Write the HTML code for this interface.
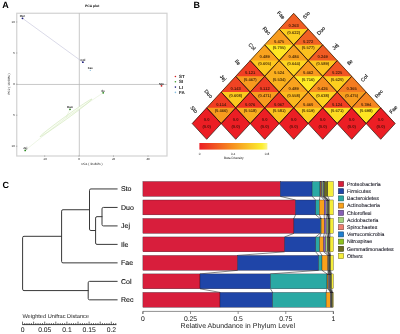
<!DOCTYPE html>
<html><head><meta charset="utf-8"><title>Figure</title><style>html,body{margin:0;padding:0;background:#fff}svg{display:block}</style></head><body>
<svg width="400" height="334" viewBox="0 0 400 334" font-family="'Liberation Sans', Arial, sans-serif" text-rendering="geometricPrecision">
<rect width="400" height="334" fill="#fff"/>
<g id="panelA">
<text x="2.2" y="8.3" font-size="9" font-weight="bold" fill="#000">A</text>
<text x="92.2" y="7.4" font-size="3.4" font-weight="bold" fill="#000" text-anchor="middle">PCA plot</text>
<rect x="16.75" y="13.25" width="150.25" height="142.75" fill="none" stroke="#d2d2d2" stroke-width="1.2"/>
<line x1="79.3" y1="13.25" x2="79.3" y2="156.0" stroke="#b4b4b4" stroke-width="0.75"/>
<line x1="16.75" y1="84.45" x2="167.0" y2="84.45" stroke="#b4b4b4" stroke-width="0.75"/>
<line x1="22.5" y1="18.3" x2="82.9" y2="62.2" stroke="#b4b4d0" stroke-width="0.5"/>
<g transform="translate(66,117.8) rotate(-35.9)"><ellipse cx="0" cy="0" rx="32" ry="1.4" fill="#fafdf5" stroke="#bcdc9c" stroke-width="0.4"/></g>
<line x1="25.2" y1="150.4" x2="66" y2="117.6" stroke="#cfe6b6" stroke-width="0.35"/>
<line x1="66" y1="117.6" x2="103.2" y2="92.8" stroke="#cfe6b6" stroke-width="0.35"/>
<line x1="66" y1="117.6" x2="70" y2="109.3" stroke="#cfe6b6" stroke-width="0.35"/>
<circle cx="22.5" cy="18.3" r="0.9" fill="#1a1a7a"/>
<text x="22.5" y="17.0" font-size="3.0" font-weight="bold" fill="#1a1a1a" text-anchor="middle">Rec</text>
<circle cx="82.9" cy="62.2" r="0.9" fill="#1a1a7a"/>
<text x="82.9" y="60.900000000000006" font-size="3.0" font-weight="bold" fill="#1a1a1a" text-anchor="middle">Col</text>
<circle cx="90.3" cy="70.4" r="0.6" fill="#8ac0e0"/>
<text x="90.3" y="69.10000000000001" font-size="3.0" font-weight="bold" fill="#1a1a1a" text-anchor="middle">Fae</text>
<circle cx="161.5" cy="85.8" r="0.9" fill="#d02020"/>
<text x="161.5" y="84.5" font-size="3.0" font-weight="bold" fill="#1a1a1a" text-anchor="middle">Sto</text>
<circle cx="103.2" cy="92.8" r="0.9" fill="#2c8a20"/>
<text x="103.2" y="91.5" font-size="3.0" font-weight="bold" fill="#1a1a1a" text-anchor="middle">Ile</text>
<circle cx="70" cy="109.3" r="0.9" fill="#2c8a20"/>
<text x="70" y="108.0" font-size="3.0" font-weight="bold" fill="#1a1a1a" text-anchor="middle">Duo</text>
<circle cx="25.2" cy="150.4" r="0.9" fill="#2c8a20"/>
<text x="25.2" y="149.1" font-size="3.0" font-weight="bold" fill="#1a1a1a" text-anchor="middle">Jej</text>
<text x="44.7" y="160.3" font-size="2.9" fill="#111" text-anchor="middle">-20</text>
<line x1="44.7" y1="155.4" x2="44.7" y2="156.8" stroke="#666" stroke-width="0.4"/>
<text x="79" y="160.3" font-size="2.9" fill="#111" text-anchor="middle">0</text>
<line x1="79" y1="155.4" x2="79" y2="156.8" stroke="#666" stroke-width="0.4"/>
<text x="113.5" y="160.3" font-size="2.9" fill="#111" text-anchor="middle">20</text>
<line x1="113.5" y1="155.4" x2="113.5" y2="156.8" stroke="#666" stroke-width="0.4"/>
<text x="148" y="160.3" font-size="2.9" fill="#111" text-anchor="middle">40</text>
<line x1="148" y1="155.4" x2="148" y2="156.8" stroke="#666" stroke-width="0.4"/>
<text x="14.8" y="23" font-size="2.9" fill="#111" text-anchor="end">10</text>
<line x1="15.95" y1="22" x2="17.35" y2="22" stroke="#666" stroke-width="0.4"/>
<text x="14.8" y="54" font-size="2.9" fill="#111" text-anchor="end">5</text>
<line x1="15.95" y1="53" x2="17.35" y2="53" stroke="#666" stroke-width="0.4"/>
<text x="14.8" y="85.2" font-size="2.9" fill="#111" text-anchor="end">0</text>
<line x1="15.95" y1="84.2" x2="17.35" y2="84.2" stroke="#666" stroke-width="0.4"/>
<text x="14.8" y="116.2" font-size="2.9" fill="#111" text-anchor="end">-5</text>
<line x1="15.95" y1="115.2" x2="17.35" y2="115.2" stroke="#666" stroke-width="0.4"/>
<text x="14.8" y="147.2" font-size="2.9" fill="#111" text-anchor="end">-10</text>
<line x1="15.95" y1="146.2" x2="17.35" y2="146.2" stroke="#666" stroke-width="0.4"/>
<text x="92" y="165" font-size="3.1" fill="#111" text-anchor="middle">PC1 ( 35.80% )</text>
<text transform="translate(9.6,84) rotate(-90)" font-size="3.1" fill="#111" text-anchor="middle">PC2 ( 16.98% )</text>
<circle cx="175.4" cy="76.5" r="0.8" fill="#d02020"/>
<text x="179.0" y="78.1" font-size="4.5" font-weight="bold" fill="#222">ST</text>
<circle cx="175.4" cy="81.8" r="0.8" fill="#3a9a2a"/>
<text x="179.0" y="83.39999999999999" font-size="4.5" font-weight="bold" fill="#222">SI</text>
<circle cx="175.4" cy="87.1" r="0.8" fill="#1a1a7a"/>
<text x="179.0" y="88.69999999999999" font-size="4.5" font-weight="bold" fill="#222">LI</text>
<circle cx="175.4" cy="92.4" r="0.8" fill="#8ac0e0"/>
<text x="179.0" y="94.0" font-size="4.5" font-weight="bold" fill="#222">FA</text>
</g>
<g id="panelB">
<text x="193.6" y="8.3" font-size="9" font-weight="bold" fill="#000">B</text>
<polygon points="279.20,29.05 293.70,13.30 308.20,29.05 293.70,44.80" fill="#fcce1f"/>
<polygon points="279.20,29.05 293.70,13.30 308.20,29.05" fill="#f15e23"/>
<polygon points="264.70,44.80 279.20,29.05 293.70,44.80 279.20,60.55" fill="#fee722"/>
<polygon points="264.70,44.80 279.20,29.05 293.70,44.80" fill="#f89d1e"/>
<polygon points="293.70,44.80 308.20,29.05 322.70,44.80 308.20,60.55" fill="#fbc01e"/>
<polygon points="293.70,44.80 308.20,29.05 322.70,44.80" fill="#f16123"/>
<polygon points="250.20,60.55 264.70,44.80 279.20,60.55 264.70,76.30" fill="#fcc91e"/>
<polygon points="250.20,60.55 264.70,44.80 279.20,60.55" fill="#f9a21e"/>
<polygon points="279.20,60.55 293.70,44.80 308.20,60.55 293.70,76.30" fill="#fdd520"/>
<polygon points="279.20,60.55 293.70,44.80 308.20,60.55" fill="#f8a01e"/>
<polygon points="308.20,60.55 322.70,44.80 337.20,60.55 322.70,76.30" fill="#fcc41e"/>
<polygon points="308.20,60.55 322.70,44.80 337.20,60.55" fill="#f15b23"/>
<polygon points="235.70,76.30 250.20,60.55 264.70,76.30 250.20,92.05" fill="#f89a1e"/>
<polygon points="235.70,76.30 250.20,60.55 264.70,76.30" fill="#f03e23"/>
<polygon points="264.70,76.30 279.20,60.55 293.70,76.30 279.20,92.05" fill="#fab11e"/>
<polygon points="264.70,76.30 279.20,60.55 293.70,76.30" fill="#faae1e"/>
<polygon points="293.70,76.30 308.20,60.55 322.70,76.30 308.20,92.05" fill="#feea23"/>
<polygon points="293.70,76.30 308.20,60.55 322.70,76.30" fill="#f8991e"/>
<polygon points="322.70,76.30 337.20,60.55 351.70,76.30 337.20,92.05" fill="#fcce1f"/>
<polygon points="322.70,76.30 337.20,60.55 351.70,76.30" fill="#f15523"/>
<polygon points="221.20,92.05 235.70,76.30 250.20,92.05 235.70,107.80" fill="#fcca1e"/>
<polygon points="221.20,92.05 235.70,76.30 250.20,92.05" fill="#f04323"/>
<polygon points="250.20,92.05 264.70,76.30 279.20,92.05 264.70,107.80" fill="#f89b1e"/>
<polygon points="250.20,92.05 264.70,76.30 279.20,92.05" fill="#f03c23"/>
<polygon points="279.20,92.05 293.70,76.30 308.20,92.05 293.70,107.80" fill="#fbb91e"/>
<polygon points="279.20,92.05 293.70,76.30 308.20,92.05" fill="#f9a21e"/>
<polygon points="308.20,92.05 322.70,76.30 337.20,92.05 322.70,107.80" fill="#fdd320"/>
<polygon points="308.20,92.05 322.70,76.30 337.20,92.05" fill="#f78e1f"/>
<polygon points="337.20,92.05 351.70,76.30 366.20,92.05 351.70,107.80" fill="#f89d1e"/>
<polygon points="337.20,92.05 351.70,76.30 366.20,92.05" fill="#f47c20"/>
<polygon points="206.70,107.80 221.20,92.05 235.70,107.80 221.20,123.55" fill="#f89a1e"/>
<polygon points="206.70,107.80 221.20,92.05 235.70,107.80" fill="#f03c23"/>
<polygon points="235.70,107.80 250.20,92.05 264.70,107.80 250.20,123.55" fill="#f9ac1e"/>
<polygon points="235.70,107.80 250.20,92.05 264.70,107.80" fill="#ef3223"/>
<polygon points="264.70,107.80 279.20,92.05 293.70,107.80 279.20,123.55" fill="#fbc11e"/>
<polygon points="264.70,107.80 279.20,92.05 293.70,107.80" fill="#ee3023"/>
<polygon points="293.70,107.80 308.20,92.05 322.70,107.80 308.20,123.55" fill="#fcce1f"/>
<polygon points="293.70,107.80 308.20,92.05 322.70,107.80" fill="#f8981e"/>
<polygon points="322.70,107.80 337.20,92.05 351.70,107.80 337.20,123.55" fill="#fddd21"/>
<polygon points="322.70,107.80 337.20,92.05 351.70,107.80" fill="#f03f23"/>
<polygon points="351.70,107.80 366.20,92.05 380.70,107.80 366.20,123.55" fill="#fee522"/>
<polygon points="351.70,107.80 366.20,92.05 380.70,107.80" fill="#f58520"/>
<polygon points="192.20,123.55 206.70,107.80 221.20,123.55 206.70,139.30" fill="#ec1e24"/>
<polygon points="192.20,123.55 206.70,107.80 221.20,123.55" fill="#ec1e24"/>
<polygon points="221.20,123.55 235.70,107.80 250.20,123.55 235.70,139.30" fill="#ec1e24"/>
<polygon points="221.20,123.55 235.70,107.80 250.20,123.55" fill="#ec1e24"/>
<polygon points="250.20,123.55 264.70,107.80 279.20,123.55 264.70,139.30" fill="#ec1e24"/>
<polygon points="250.20,123.55 264.70,107.80 279.20,123.55" fill="#ec1e24"/>
<polygon points="279.20,123.55 293.70,107.80 308.20,123.55 293.70,139.30" fill="#ec1e24"/>
<polygon points="279.20,123.55 293.70,107.80 308.20,123.55" fill="#ec1e24"/>
<polygon points="308.20,123.55 322.70,107.80 337.20,123.55 322.70,139.30" fill="#ec1e24"/>
<polygon points="308.20,123.55 322.70,107.80 337.20,123.55" fill="#ec1e24"/>
<polygon points="337.20,123.55 351.70,107.80 366.20,123.55 351.70,139.30" fill="#ec1e24"/>
<polygon points="337.20,123.55 351.70,107.80 366.20,123.55" fill="#ec1e24"/>
<polygon points="366.20,123.55 380.70,107.80 395.20,123.55 380.70,139.30" fill="#ec1e24"/>
<polygon points="366.20,123.55 380.70,107.80 395.20,123.55" fill="#ec1e24"/>
<polygon points="279.20,29.05 293.70,13.30 308.20,29.05 293.70,44.80" fill="none" stroke="#2a1208" stroke-width="0.7" stroke-linejoin="miter"/>
<text x="293.70" y="26.85" font-size="4.1" font-weight="bold" fill="#200c00" fill-opacity="0.8" text-anchor="middle">0.263</text>
<text x="293.70" y="33.65" font-size="4.1" font-weight="bold" fill="#200c00" fill-opacity="0.8" text-anchor="middle">(0.622)</text>
<polygon points="264.70,44.80 279.20,29.05 293.70,44.80 279.20,60.55" fill="none" stroke="#2a1208" stroke-width="0.7" stroke-linejoin="miter"/>
<text x="279.20" y="42.60" font-size="4.1" font-weight="bold" fill="#200c00" fill-opacity="0.8" text-anchor="middle">0.475</text>
<text x="279.20" y="49.40" font-size="4.1" font-weight="bold" fill="#200c00" fill-opacity="0.8" text-anchor="middle">(0.705)</text>
<polygon points="293.70,44.80 308.20,29.05 322.70,44.80 308.20,60.55" fill="none" stroke="#2a1208" stroke-width="0.7" stroke-linejoin="miter"/>
<text x="308.20" y="42.60" font-size="4.1" font-weight="bold" fill="#200c00" fill-opacity="0.8" text-anchor="middle">0.272</text>
<text x="308.20" y="49.40" font-size="4.1" font-weight="bold" fill="#200c00" fill-opacity="0.8" text-anchor="middle">(0.577)</text>
<polygon points="250.20,60.55 264.70,44.80 279.20,60.55 264.70,76.30" fill="none" stroke="#2a1208" stroke-width="0.7" stroke-linejoin="miter"/>
<text x="264.70" y="58.35" font-size="4.1" font-weight="bold" fill="#200c00" fill-opacity="0.8" text-anchor="middle">0.489</text>
<text x="264.70" y="65.15" font-size="4.1" font-weight="bold" fill="#200c00" fill-opacity="0.8" text-anchor="middle">(0.605)</text>
<polygon points="279.20,60.55 293.70,44.80 308.20,60.55 293.70,76.30" fill="none" stroke="#2a1208" stroke-width="0.7" stroke-linejoin="miter"/>
<text x="293.70" y="58.35" font-size="4.1" font-weight="bold" fill="#200c00" fill-opacity="0.8" text-anchor="middle">0.484</text>
<text x="293.70" y="65.15" font-size="4.1" font-weight="bold" fill="#200c00" fill-opacity="0.8" text-anchor="middle">(0.644)</text>
<polygon points="308.20,60.55 322.70,44.80 337.20,60.55 322.70,76.30" fill="none" stroke="#2a1208" stroke-width="0.7" stroke-linejoin="miter"/>
<text x="322.70" y="58.35" font-size="4.1" font-weight="bold" fill="#200c00" fill-opacity="0.8" text-anchor="middle">0.249</text>
<text x="322.70" y="65.15" font-size="4.1" font-weight="bold" fill="#200c00" fill-opacity="0.8" text-anchor="middle">(0.589)</text>
<polygon points="235.70,76.30 250.20,60.55 264.70,76.30 250.20,92.05" fill="none" stroke="#2a1208" stroke-width="0.7" stroke-linejoin="miter"/>
<text x="250.20" y="74.10" font-size="4.1" font-weight="bold" fill="#200c00" fill-opacity="0.8" text-anchor="middle">0.121</text>
<text x="250.20" y="80.90" font-size="4.1" font-weight="bold" fill="#200c00" fill-opacity="0.8" text-anchor="middle">(0.467)</text>
<polygon points="264.70,76.30 279.20,60.55 293.70,76.30 279.20,92.05" fill="none" stroke="#2a1208" stroke-width="0.7" stroke-linejoin="miter"/>
<text x="279.20" y="74.10" font-size="4.1" font-weight="bold" fill="#200c00" fill-opacity="0.8" text-anchor="middle">0.524</text>
<text x="279.20" y="80.90" font-size="4.1" font-weight="bold" fill="#200c00" fill-opacity="0.8" text-anchor="middle">(0.534)</text>
<polygon points="293.70,76.30 308.20,60.55 322.70,76.30 308.20,92.05" fill="none" stroke="#2a1208" stroke-width="0.7" stroke-linejoin="miter"/>
<text x="308.20" y="74.10" font-size="4.1" font-weight="bold" fill="#200c00" fill-opacity="0.8" text-anchor="middle">0.462</text>
<text x="308.20" y="80.90" font-size="4.1" font-weight="bold" fill="#200c00" fill-opacity="0.8" text-anchor="middle">(0.716)</text>
<polygon points="322.70,76.30 337.20,60.55 351.70,76.30 337.20,92.05" fill="none" stroke="#2a1208" stroke-width="0.7" stroke-linejoin="miter"/>
<text x="337.20" y="74.10" font-size="4.1" font-weight="bold" fill="#200c00" fill-opacity="0.8" text-anchor="middle">0.225</text>
<text x="337.20" y="80.90" font-size="4.1" font-weight="bold" fill="#200c00" fill-opacity="0.8" text-anchor="middle">(0.620)</text>
<polygon points="221.20,92.05 235.70,76.30 250.20,92.05 235.70,107.80" fill="none" stroke="#2a1208" stroke-width="0.7" stroke-linejoin="miter"/>
<text x="235.70" y="89.85" font-size="4.1" font-weight="bold" fill="#200c00" fill-opacity="0.8" text-anchor="middle">0.143</text>
<text x="235.70" y="96.65" font-size="4.1" font-weight="bold" fill="#200c00" fill-opacity="0.8" text-anchor="middle">(0.608)</text>
<polygon points="250.20,92.05 264.70,76.30 279.20,92.05 264.70,107.80" fill="none" stroke="#2a1208" stroke-width="0.7" stroke-linejoin="miter"/>
<text x="264.70" y="89.85" font-size="4.1" font-weight="bold" fill="#200c00" fill-opacity="0.8" text-anchor="middle">0.112</text>
<text x="264.70" y="96.65" font-size="4.1" font-weight="bold" fill="#200c00" fill-opacity="0.8" text-anchor="middle">(0.471)</text>
<polygon points="279.20,92.05 293.70,76.30 308.20,92.05 293.70,107.80" fill="none" stroke="#2a1208" stroke-width="0.7" stroke-linejoin="miter"/>
<text x="293.70" y="89.85" font-size="4.1" font-weight="bold" fill="#200c00" fill-opacity="0.8" text-anchor="middle">0.489</text>
<text x="293.70" y="96.65" font-size="4.1" font-weight="bold" fill="#200c00" fill-opacity="0.8" text-anchor="middle">(0.558)</text>
<polygon points="308.20,92.05 322.70,76.30 337.20,92.05 322.70,107.80" fill="none" stroke="#2a1208" stroke-width="0.7" stroke-linejoin="miter"/>
<text x="322.70" y="89.85" font-size="4.1" font-weight="bold" fill="#200c00" fill-opacity="0.8" text-anchor="middle">0.426</text>
<text x="322.70" y="96.65" font-size="4.1" font-weight="bold" fill="#200c00" fill-opacity="0.8" text-anchor="middle">(0.638)</text>
<polygon points="337.20,92.05 351.70,76.30 366.20,92.05 351.70,107.80" fill="none" stroke="#2a1208" stroke-width="0.7" stroke-linejoin="miter"/>
<text x="351.70" y="89.85" font-size="4.1" font-weight="bold" fill="#200c00" fill-opacity="0.8" text-anchor="middle">0.365</text>
<text x="351.70" y="96.65" font-size="4.1" font-weight="bold" fill="#200c00" fill-opacity="0.8" text-anchor="middle">(0.475)</text>
<polygon points="206.70,107.80 221.20,92.05 235.70,107.80 221.20,123.55" fill="none" stroke="#2a1208" stroke-width="0.7" stroke-linejoin="miter"/>
<text x="221.20" y="105.60" font-size="4.1" font-weight="bold" fill="#200c00" fill-opacity="0.8" text-anchor="middle">0.114</text>
<text x="221.20" y="112.40" font-size="4.1" font-weight="bold" fill="#200c00" fill-opacity="0.8" text-anchor="middle">(0.466)</text>
<polygon points="235.70,107.80 250.20,92.05 264.70,107.80 250.20,123.55" fill="none" stroke="#2a1208" stroke-width="0.7" stroke-linejoin="miter"/>
<text x="250.20" y="105.60" font-size="4.1" font-weight="bold" fill="#200c00" fill-opacity="0.8" text-anchor="middle">0.076</text>
<text x="250.20" y="112.40" font-size="4.1" font-weight="bold" fill="#200c00" fill-opacity="0.8" text-anchor="middle">(0.518)</text>
<polygon points="264.70,107.80 279.20,92.05 293.70,107.80 279.20,123.55" fill="none" stroke="#2a1208" stroke-width="0.7" stroke-linejoin="miter"/>
<text x="279.20" y="105.60" font-size="4.1" font-weight="bold" fill="#200c00" fill-opacity="0.8" text-anchor="middle">0.067</text>
<text x="279.20" y="112.40" font-size="4.1" font-weight="bold" fill="#200c00" fill-opacity="0.8" text-anchor="middle">(0.581)</text>
<polygon points="293.70,107.80 308.20,92.05 322.70,107.80 308.20,123.55" fill="none" stroke="#2a1208" stroke-width="0.7" stroke-linejoin="miter"/>
<text x="308.20" y="105.60" font-size="4.1" font-weight="bold" fill="#200c00" fill-opacity="0.8" text-anchor="middle">0.460</text>
<text x="308.20" y="112.40" font-size="4.1" font-weight="bold" fill="#200c00" fill-opacity="0.8" text-anchor="middle">(0.619)</text>
<polygon points="322.70,107.80 337.20,92.05 351.70,107.80 337.20,123.55" fill="none" stroke="#2a1208" stroke-width="0.7" stroke-linejoin="miter"/>
<text x="337.20" y="105.60" font-size="4.1" font-weight="bold" fill="#200c00" fill-opacity="0.8" text-anchor="middle">0.124</text>
<text x="337.20" y="112.40" font-size="4.1" font-weight="bold" fill="#200c00" fill-opacity="0.8" text-anchor="middle">(0.671)</text>
<polygon points="351.70,107.80 366.20,92.05 380.70,107.80 366.20,123.55" fill="none" stroke="#2a1208" stroke-width="0.7" stroke-linejoin="miter"/>
<text x="366.20" y="105.60" font-size="4.1" font-weight="bold" fill="#200c00" fill-opacity="0.8" text-anchor="middle">0.394</text>
<text x="366.20" y="112.40" font-size="4.1" font-weight="bold" fill="#200c00" fill-opacity="0.8" text-anchor="middle">(0.698)</text>
<polygon points="192.20,123.55 206.70,107.80 221.20,123.55 206.70,139.30" fill="none" stroke="#2a1208" stroke-width="0.7" stroke-linejoin="miter"/>
<text x="206.70" y="121.35" font-size="4.1" font-weight="bold" fill="#200c00" fill-opacity="0.8" text-anchor="middle">0.0</text>
<text x="206.70" y="128.15" font-size="4.1" font-weight="bold" fill="#200c00" fill-opacity="0.8" text-anchor="middle">(0.0)</text>
<polygon points="221.20,123.55 235.70,107.80 250.20,123.55 235.70,139.30" fill="none" stroke="#2a1208" stroke-width="0.7" stroke-linejoin="miter"/>
<text x="235.70" y="121.35" font-size="4.1" font-weight="bold" fill="#200c00" fill-opacity="0.8" text-anchor="middle">0.0</text>
<text x="235.70" y="128.15" font-size="4.1" font-weight="bold" fill="#200c00" fill-opacity="0.8" text-anchor="middle">(0.0)</text>
<polygon points="250.20,123.55 264.70,107.80 279.20,123.55 264.70,139.30" fill="none" stroke="#2a1208" stroke-width="0.7" stroke-linejoin="miter"/>
<text x="264.70" y="121.35" font-size="4.1" font-weight="bold" fill="#200c00" fill-opacity="0.8" text-anchor="middle">0.0</text>
<text x="264.70" y="128.15" font-size="4.1" font-weight="bold" fill="#200c00" fill-opacity="0.8" text-anchor="middle">(0.0)</text>
<polygon points="279.20,123.55 293.70,107.80 308.20,123.55 293.70,139.30" fill="none" stroke="#2a1208" stroke-width="0.7" stroke-linejoin="miter"/>
<text x="293.70" y="121.35" font-size="4.1" font-weight="bold" fill="#200c00" fill-opacity="0.8" text-anchor="middle">0.0</text>
<text x="293.70" y="128.15" font-size="4.1" font-weight="bold" fill="#200c00" fill-opacity="0.8" text-anchor="middle">(0.0)</text>
<polygon points="308.20,123.55 322.70,107.80 337.20,123.55 322.70,139.30" fill="none" stroke="#2a1208" stroke-width="0.7" stroke-linejoin="miter"/>
<text x="322.70" y="121.35" font-size="4.1" font-weight="bold" fill="#200c00" fill-opacity="0.8" text-anchor="middle">0.0</text>
<text x="322.70" y="128.15" font-size="4.1" font-weight="bold" fill="#200c00" fill-opacity="0.8" text-anchor="middle">(0.0)</text>
<polygon points="337.20,123.55 351.70,107.80 366.20,123.55 351.70,139.30" fill="none" stroke="#2a1208" stroke-width="0.7" stroke-linejoin="miter"/>
<text x="351.70" y="121.35" font-size="4.1" font-weight="bold" fill="#200c00" fill-opacity="0.8" text-anchor="middle">0.0</text>
<text x="351.70" y="128.15" font-size="4.1" font-weight="bold" fill="#200c00" fill-opacity="0.8" text-anchor="middle">(0.0)</text>
<polygon points="366.20,123.55 380.70,107.80 395.20,123.55 380.70,139.30" fill="none" stroke="#2a1208" stroke-width="0.7" stroke-linejoin="miter"/>
<text x="380.70" y="121.35" font-size="4.1" font-weight="bold" fill="#200c00" fill-opacity="0.8" text-anchor="middle">0.0</text>
<text x="380.70" y="128.15" font-size="4.1" font-weight="bold" fill="#200c00" fill-opacity="0.8" text-anchor="middle">(0.0)</text>
<text transform="translate(281.10,15.05) rotate(47)" font-size="5.2" fill="#111" stroke="#111" stroke-width="0.12" text-anchor="middle" dy="1.8">Fae</text>
<text transform="translate(306.30,15.05) rotate(-47)" font-size="5.2" fill="#111" stroke="#111" stroke-width="0.12" text-anchor="middle" dy="1.8">Sto</text>
<text transform="translate(266.60,30.80) rotate(47)" font-size="5.2" fill="#111" stroke="#111" stroke-width="0.12" text-anchor="middle" dy="1.8">Rec</text>
<text transform="translate(320.80,30.80) rotate(-47)" font-size="5.2" fill="#111" stroke="#111" stroke-width="0.12" text-anchor="middle" dy="1.8">Duo</text>
<text transform="translate(252.10,46.55) rotate(47)" font-size="5.2" fill="#111" stroke="#111" stroke-width="0.12" text-anchor="middle" dy="1.8">Col</text>
<text transform="translate(335.30,46.55) rotate(-47)" font-size="5.2" fill="#111" stroke="#111" stroke-width="0.12" text-anchor="middle" dy="1.8">Jej</text>
<text transform="translate(237.60,62.30) rotate(47)" font-size="5.2" fill="#111" stroke="#111" stroke-width="0.12" text-anchor="middle" dy="1.8">Ile</text>
<text transform="translate(349.80,62.30) rotate(-47)" font-size="5.2" fill="#111" stroke="#111" stroke-width="0.12" text-anchor="middle" dy="1.8">Ile</text>
<text transform="translate(223.10,78.05) rotate(47)" font-size="5.2" fill="#111" stroke="#111" stroke-width="0.12" text-anchor="middle" dy="1.8">Jej</text>
<text transform="translate(364.30,78.05) rotate(-47)" font-size="5.2" fill="#111" stroke="#111" stroke-width="0.12" text-anchor="middle" dy="1.8">Col</text>
<text transform="translate(208.60,93.80) rotate(47)" font-size="5.2" fill="#111" stroke="#111" stroke-width="0.12" text-anchor="middle" dy="1.8">Duo</text>
<text transform="translate(378.80,93.80) rotate(-47)" font-size="5.2" fill="#111" stroke="#111" stroke-width="0.12" text-anchor="middle" dy="1.8">Rec</text>
<text transform="translate(194.10,109.55) rotate(47)" font-size="5.2" fill="#111" stroke="#111" stroke-width="0.12" text-anchor="middle" dy="1.8">Sto</text>
<text transform="translate(393.30,109.55) rotate(-47)" font-size="5.2" fill="#111" stroke="#111" stroke-width="0.12" text-anchor="middle" dy="1.8">Fae</text>
<defs><linearGradient id="cb" x1="0" x2="1" y1="0" y2="0"><stop offset="0" stop-color="#ec1e24"/><stop offset="0.5" stop-color="#f7931e"/><stop offset="0.92" stop-color="#fcee30"/><stop offset="1" stop-color="#fdf58a"/></linearGradient></defs>
<rect x="199.4" y="143" width="68" height="6.6" fill="url(#cb)"/>
<text x="199.6" y="154.7" font-size="3.1" fill="#111" text-anchor="middle">0</text>
<text x="233.2" y="154.7" font-size="3.1" fill="#111" text-anchor="middle">0.4</text>
<text x="267" y="154.7" font-size="3.1" fill="#111" text-anchor="middle">0.8</text>
<text x="233.8" y="159.2" font-size="3.15" fill="#111" text-anchor="middle">Beta Diversity</text>
</g>
<g id="panelC">
<text x="2.6" y="188.3" font-size="9" font-weight="bold" fill="#000">C</text>
<text x="121" y="191.45" font-size="7" fill="#111" stroke="#111" stroke-width="0.12">Sto</text>
<text x="121" y="209.93" font-size="7" fill="#111" stroke="#111" stroke-width="0.12">Duo</text>
<text x="121" y="228.41" font-size="7" fill="#111" stroke="#111" stroke-width="0.12">Jej</text>
<text x="121" y="246.89" font-size="7" fill="#111" stroke="#111" stroke-width="0.12">Ile</text>
<text x="121" y="265.37" font-size="7" fill="#111" stroke="#111" stroke-width="0.12">Fae</text>
<text x="121" y="283.85" font-size="7" fill="#111" stroke="#111" stroke-width="0.12">Col</text>
<text x="121" y="302.33" font-size="7" fill="#111" stroke="#111" stroke-width="0.12">Rec</text>
<path d="M117.2,207.42999999999998 H103.4 Q102,207.42999999999998 102,208.82999999999998 V224.51 Q102,225.91 103.4,225.91 H117.2" fill="none" stroke="#383838" stroke-width="1.0" stroke-linejoin="round" stroke-linecap="round"/>
<path d="M102,216.67 H97.0 Q95.6,216.67 95.6,218.07 V242.98999999999998 Q95.6,244.39 97.0,244.39 H117.2" fill="none" stroke="#383838" stroke-width="1.0" stroke-linejoin="round" stroke-linecap="round"/>
<path d="M117.2,188.95 H90.9 Q89.5,188.95 89.5,190.35 V229.12999999999997 Q89.5,230.52999999999997 90.9,230.52999999999997 H95.6" fill="none" stroke="#383838" stroke-width="1.0" stroke-linejoin="round" stroke-linecap="round"/>
<path d="M89.5,209.73999999999998 H63.0 Q61.6,209.73999999999998 61.6,211.14 V261.47 Q61.6,262.87 63.0,262.87 H117.2" fill="none" stroke="#383838" stroke-width="1.0" stroke-linejoin="round" stroke-linecap="round"/>
<path d="M117.2,281.34999999999997 H89.60000000000001 Q88.2,281.34999999999997 88.2,282.74999999999994 V298.43 Q88.2,299.83 89.60000000000001,299.83 H117.2" fill="none" stroke="#383838" stroke-width="1.0" stroke-linejoin="round" stroke-linecap="round"/>
<path d="M61.6,236.305 H24.0 Q22.6,236.305 22.6,237.705 V289.19 Q22.6,290.59 24.0,290.59 H88.2" fill="none" stroke="#383838" stroke-width="1.0" stroke-linejoin="round" stroke-linecap="round"/>
<text x="22.4" y="318.2" font-size="5.65" fill="#222">Weighted Unifrac Distance</text>
<line x1="22.3" y1="324.6" x2="116.4" y2="324.6" stroke="#111" stroke-width="0.8"/>
<line x1="22.50" y1="324.6" x2="22.50" y2="321.6" stroke="#111" stroke-width="0.6"/>
<line x1="24.72" y1="324.6" x2="24.72" y2="323.0" stroke="#111" stroke-width="0.6"/>
<line x1="26.94" y1="324.6" x2="26.94" y2="323.0" stroke="#111" stroke-width="0.6"/>
<line x1="29.16" y1="324.6" x2="29.16" y2="323.0" stroke="#111" stroke-width="0.6"/>
<line x1="31.38" y1="324.6" x2="31.38" y2="323.0" stroke="#111" stroke-width="0.6"/>
<line x1="33.60" y1="324.6" x2="33.60" y2="321.6" stroke="#111" stroke-width="0.6"/>
<line x1="35.82" y1="324.6" x2="35.82" y2="323.0" stroke="#111" stroke-width="0.6"/>
<line x1="38.04" y1="324.6" x2="38.04" y2="323.0" stroke="#111" stroke-width="0.6"/>
<line x1="40.26" y1="324.6" x2="40.26" y2="323.0" stroke="#111" stroke-width="0.6"/>
<line x1="42.48" y1="324.6" x2="42.48" y2="323.0" stroke="#111" stroke-width="0.6"/>
<line x1="44.70" y1="324.6" x2="44.70" y2="321.6" stroke="#111" stroke-width="0.6"/>
<line x1="46.92" y1="324.6" x2="46.92" y2="323.0" stroke="#111" stroke-width="0.6"/>
<line x1="49.14" y1="324.6" x2="49.14" y2="323.0" stroke="#111" stroke-width="0.6"/>
<line x1="51.36" y1="324.6" x2="51.36" y2="323.0" stroke="#111" stroke-width="0.6"/>
<line x1="53.58" y1="324.6" x2="53.58" y2="323.0" stroke="#111" stroke-width="0.6"/>
<line x1="55.80" y1="324.6" x2="55.80" y2="321.6" stroke="#111" stroke-width="0.6"/>
<line x1="58.02" y1="324.6" x2="58.02" y2="323.0" stroke="#111" stroke-width="0.6"/>
<line x1="60.24" y1="324.6" x2="60.24" y2="323.0" stroke="#111" stroke-width="0.6"/>
<line x1="62.46" y1="324.6" x2="62.46" y2="323.0" stroke="#111" stroke-width="0.6"/>
<line x1="64.68" y1="324.6" x2="64.68" y2="323.0" stroke="#111" stroke-width="0.6"/>
<line x1="66.90" y1="324.6" x2="66.90" y2="321.6" stroke="#111" stroke-width="0.6"/>
<line x1="69.12" y1="324.6" x2="69.12" y2="323.0" stroke="#111" stroke-width="0.6"/>
<line x1="71.34" y1="324.6" x2="71.34" y2="323.0" stroke="#111" stroke-width="0.6"/>
<line x1="73.56" y1="324.6" x2="73.56" y2="323.0" stroke="#111" stroke-width="0.6"/>
<line x1="75.78" y1="324.6" x2="75.78" y2="323.0" stroke="#111" stroke-width="0.6"/>
<line x1="78.00" y1="324.6" x2="78.00" y2="321.6" stroke="#111" stroke-width="0.6"/>
<line x1="80.22" y1="324.6" x2="80.22" y2="323.0" stroke="#111" stroke-width="0.6"/>
<line x1="82.44" y1="324.6" x2="82.44" y2="323.0" stroke="#111" stroke-width="0.6"/>
<line x1="84.66" y1="324.6" x2="84.66" y2="323.0" stroke="#111" stroke-width="0.6"/>
<line x1="86.88" y1="324.6" x2="86.88" y2="323.0" stroke="#111" stroke-width="0.6"/>
<line x1="89.10" y1="324.6" x2="89.10" y2="321.6" stroke="#111" stroke-width="0.6"/>
<line x1="91.32" y1="324.6" x2="91.32" y2="323.0" stroke="#111" stroke-width="0.6"/>
<line x1="93.54" y1="324.6" x2="93.54" y2="323.0" stroke="#111" stroke-width="0.6"/>
<line x1="95.76" y1="324.6" x2="95.76" y2="323.0" stroke="#111" stroke-width="0.6"/>
<line x1="97.98" y1="324.6" x2="97.98" y2="323.0" stroke="#111" stroke-width="0.6"/>
<line x1="100.20" y1="324.6" x2="100.20" y2="321.6" stroke="#111" stroke-width="0.6"/>
<line x1="102.42" y1="324.6" x2="102.42" y2="323.0" stroke="#111" stroke-width="0.6"/>
<line x1="104.64" y1="324.6" x2="104.64" y2="323.0" stroke="#111" stroke-width="0.6"/>
<line x1="106.86" y1="324.6" x2="106.86" y2="323.0" stroke="#111" stroke-width="0.6"/>
<line x1="109.08" y1="324.6" x2="109.08" y2="323.0" stroke="#111" stroke-width="0.6"/>
<line x1="111.30" y1="324.6" x2="111.30" y2="321.6" stroke="#111" stroke-width="0.6"/>
<line x1="113.52" y1="324.6" x2="113.52" y2="323.0" stroke="#111" stroke-width="0.6"/>
<line x1="115.74" y1="324.6" x2="115.74" y2="323.0" stroke="#111" stroke-width="0.6"/>
<text x="22.6" y="331.8" font-size="6.8" fill="#111" text-anchor="middle">0</text>
<text x="44.8" y="331.8" font-size="6.8" fill="#111" text-anchor="middle">0.05</text>
<text x="67" y="331.8" font-size="6.8" fill="#111" text-anchor="middle">0.1</text>
<text x="89.2" y="331.8" font-size="6.8" fill="#111" text-anchor="middle">0.15</text>
<text x="111.4" y="331.8" font-size="6.8" fill="#111" text-anchor="middle">0.2</text>
<rect x="142.90" y="181.50" width="137.40" height="14.9" fill="#d81e3c" stroke="#1a1020" stroke-width="0.3"/>
<rect x="280.30" y="181.50" width="31.80" height="14.9" fill="#1f45a8" stroke="#1a1020" stroke-width="0.3"/>
<rect x="312.10" y="181.50" width="7.90" height="14.9" fill="#2aa9a4" stroke="#1a1020" stroke-width="0.3"/>
<rect x="320.00" y="181.50" width="0.90" height="14.9" fill="#f9a11b" stroke="#1a1020" stroke-width="0.3"/>
<rect x="320.90" y="181.50" width="0.90" height="14.9" fill="#8560b5" stroke="#1a1020" stroke-width="0.3"/>
<rect x="321.80" y="181.50" width="1.20" height="14.9" fill="#a4d27c" stroke="#1a1020" stroke-width="0.3"/>
<rect x="323.00" y="181.50" width="0.60" height="14.9" fill="#ee7f70" stroke="#1a1020" stroke-width="0.3"/>
<rect x="323.60" y="181.50" width="0.60" height="14.9" fill="#1f7fd0" stroke="#1a1020" stroke-width="0.3"/>
<rect x="324.20" y="181.50" width="0.60" height="14.9" fill="#8fc31f" stroke="#1a1020" stroke-width="0.3"/>
<rect x="324.80" y="181.50" width="3.00" height="14.9" fill="#6b6b20" stroke="#1a1020" stroke-width="0.3"/>
<rect x="327.80" y="181.50" width="5.60" height="14.9" fill="#f5ee3a" stroke="#1a1020" stroke-width="0.3"/>
<line x1="280.30" y1="196.40" x2="295.50" y2="199.98" stroke="#0a0a0a" stroke-width="0.5"/>
<line x1="312.10" y1="196.40" x2="315.70" y2="199.98" stroke="#0a0a0a" stroke-width="0.5"/>
<line x1="320.00" y1="196.40" x2="319.40" y2="199.98" stroke="#0a0a0a" stroke-width="0.5"/>
<line x1="320.90" y1="196.40" x2="324.20" y2="199.98" stroke="#0a0a0a" stroke-width="0.5"/>
<line x1="321.80" y1="196.40" x2="326.20" y2="199.98" stroke="#0a0a0a" stroke-width="0.5"/>
<line x1="323.00" y1="196.40" x2="327.40" y2="199.98" stroke="#0a0a0a" stroke-width="0.5"/>
<line x1="323.60" y1="196.40" x2="327.80" y2="199.98" stroke="#0a0a0a" stroke-width="0.5"/>
<line x1="324.20" y1="196.40" x2="328.20" y2="199.98" stroke="#0a0a0a" stroke-width="0.5"/>
<line x1="324.80" y1="196.40" x2="328.60" y2="199.98" stroke="#0a0a0a" stroke-width="0.5"/>
<line x1="327.80" y1="196.40" x2="329.40" y2="199.98" stroke="#0a0a0a" stroke-width="0.5"/>
<rect x="142.90" y="199.98" width="152.60" height="14.9" fill="#d81e3c" stroke="#1a1020" stroke-width="0.3"/>
<rect x="295.50" y="199.98" width="20.20" height="14.9" fill="#1f45a8" stroke="#1a1020" stroke-width="0.3"/>
<rect x="315.70" y="199.98" width="3.70" height="14.9" fill="#2aa9a4" stroke="#1a1020" stroke-width="0.3"/>
<rect x="319.40" y="199.98" width="4.80" height="14.9" fill="#f9a11b" stroke="#1a1020" stroke-width="0.3"/>
<rect x="324.20" y="199.98" width="2.00" height="14.9" fill="#8560b5" stroke="#1a1020" stroke-width="0.3"/>
<rect x="326.20" y="199.98" width="1.20" height="14.9" fill="#a4d27c" stroke="#1a1020" stroke-width="0.3"/>
<rect x="327.40" y="199.98" width="0.40" height="14.9" fill="#ee7f70" stroke="#1a1020" stroke-width="0.3"/>
<rect x="327.80" y="199.98" width="0.40" height="14.9" fill="#1f7fd0" stroke="#1a1020" stroke-width="0.3"/>
<rect x="328.20" y="199.98" width="0.40" height="14.9" fill="#8fc31f" stroke="#1a1020" stroke-width="0.3"/>
<rect x="328.60" y="199.98" width="0.80" height="14.9" fill="#6b6b20" stroke="#1a1020" stroke-width="0.3"/>
<rect x="329.40" y="199.98" width="4.00" height="14.9" fill="#f5ee3a" stroke="#1a1020" stroke-width="0.3"/>
<line x1="295.50" y1="214.88" x2="293.90" y2="218.46" stroke="#0a0a0a" stroke-width="0.5"/>
<line x1="315.70" y1="214.88" x2="320.20" y2="218.46" stroke="#0a0a0a" stroke-width="0.5"/>
<line x1="319.40" y1="214.88" x2="321.10" y2="218.46" stroke="#0a0a0a" stroke-width="0.5"/>
<line x1="324.20" y1="214.88" x2="324.30" y2="218.46" stroke="#0a0a0a" stroke-width="0.5"/>
<line x1="326.20" y1="214.88" x2="326.40" y2="218.46" stroke="#0a0a0a" stroke-width="0.5"/>
<line x1="327.40" y1="214.88" x2="328.00" y2="218.46" stroke="#0a0a0a" stroke-width="0.5"/>
<line x1="327.80" y1="214.88" x2="328.40" y2="218.46" stroke="#0a0a0a" stroke-width="0.5"/>
<line x1="328.20" y1="214.88" x2="328.80" y2="218.46" stroke="#0a0a0a" stroke-width="0.5"/>
<line x1="328.60" y1="214.88" x2="329.20" y2="218.46" stroke="#0a0a0a" stroke-width="0.5"/>
<line x1="329.40" y1="214.88" x2="330.00" y2="218.46" stroke="#0a0a0a" stroke-width="0.5"/>
<rect x="142.90" y="218.46" width="151.00" height="14.9" fill="#d81e3c" stroke="#1a1020" stroke-width="0.3"/>
<rect x="293.90" y="218.46" width="26.30" height="14.9" fill="#1f45a8" stroke="#1a1020" stroke-width="0.3"/>
<rect x="320.20" y="218.46" width="0.90" height="14.9" fill="#2aa9a4" stroke="#1a1020" stroke-width="0.3"/>
<rect x="321.10" y="218.46" width="3.20" height="14.9" fill="#f9a11b" stroke="#1a1020" stroke-width="0.3"/>
<rect x="324.30" y="218.46" width="2.10" height="14.9" fill="#8560b5" stroke="#1a1020" stroke-width="0.3"/>
<rect x="326.40" y="218.46" width="1.60" height="14.9" fill="#a4d27c" stroke="#1a1020" stroke-width="0.3"/>
<rect x="328.00" y="218.46" width="0.40" height="14.9" fill="#ee7f70" stroke="#1a1020" stroke-width="0.3"/>
<rect x="328.40" y="218.46" width="0.40" height="14.9" fill="#1f7fd0" stroke="#1a1020" stroke-width="0.3"/>
<rect x="328.80" y="218.46" width="0.40" height="14.9" fill="#8fc31f" stroke="#1a1020" stroke-width="0.3"/>
<rect x="329.20" y="218.46" width="0.80" height="14.9" fill="#6b6b20" stroke="#1a1020" stroke-width="0.3"/>
<rect x="330.00" y="218.46" width="3.40" height="14.9" fill="#f5ee3a" stroke="#1a1020" stroke-width="0.3"/>
<line x1="293.90" y1="233.36" x2="284.70" y2="236.94" stroke="#0a0a0a" stroke-width="0.5"/>
<line x1="320.20" y1="233.36" x2="315.70" y2="236.94" stroke="#0a0a0a" stroke-width="0.5"/>
<line x1="321.10" y1="233.36" x2="319.70" y2="236.94" stroke="#0a0a0a" stroke-width="0.5"/>
<line x1="324.30" y1="233.36" x2="323.60" y2="236.94" stroke="#0a0a0a" stroke-width="0.5"/>
<line x1="326.40" y1="233.36" x2="325.60" y2="236.94" stroke="#0a0a0a" stroke-width="0.5"/>
<line x1="328.00" y1="233.36" x2="327.50" y2="236.94" stroke="#0a0a0a" stroke-width="0.5"/>
<line x1="328.40" y1="233.36" x2="328.00" y2="236.94" stroke="#0a0a0a" stroke-width="0.5"/>
<line x1="328.80" y1="233.36" x2="328.50" y2="236.94" stroke="#0a0a0a" stroke-width="0.5"/>
<line x1="329.20" y1="233.36" x2="329.00" y2="236.94" stroke="#0a0a0a" stroke-width="0.5"/>
<line x1="330.00" y1="233.36" x2="330.00" y2="236.94" stroke="#0a0a0a" stroke-width="0.5"/>
<rect x="142.90" y="236.94" width="141.80" height="14.9" fill="#d81e3c" stroke="#1a1020" stroke-width="0.3"/>
<rect x="284.70" y="236.94" width="31.00" height="14.9" fill="#1f45a8" stroke="#1a1020" stroke-width="0.3"/>
<rect x="315.70" y="236.94" width="4.00" height="14.9" fill="#2aa9a4" stroke="#1a1020" stroke-width="0.3"/>
<rect x="319.70" y="236.94" width="3.90" height="14.9" fill="#f9a11b" stroke="#1a1020" stroke-width="0.3"/>
<rect x="323.60" y="236.94" width="2.00" height="14.9" fill="#8560b5" stroke="#1a1020" stroke-width="0.3"/>
<rect x="325.60" y="236.94" width="1.90" height="14.9" fill="#a4d27c" stroke="#1a1020" stroke-width="0.3"/>
<rect x="327.50" y="236.94" width="0.50" height="14.9" fill="#ee7f70" stroke="#1a1020" stroke-width="0.3"/>
<rect x="328.00" y="236.94" width="0.50" height="14.9" fill="#1f7fd0" stroke="#1a1020" stroke-width="0.3"/>
<rect x="328.50" y="236.94" width="0.50" height="14.9" fill="#8fc31f" stroke="#1a1020" stroke-width="0.3"/>
<rect x="329.00" y="236.94" width="1.00" height="14.9" fill="#6b6b20" stroke="#1a1020" stroke-width="0.3"/>
<rect x="330.00" y="236.94" width="3.40" height="14.9" fill="#f5ee3a" stroke="#1a1020" stroke-width="0.3"/>
<line x1="284.70" y1="251.84" x2="237.60" y2="255.42" stroke="#0a0a0a" stroke-width="0.5"/>
<line x1="315.70" y1="251.84" x2="318.60" y2="255.42" stroke="#0a0a0a" stroke-width="0.5"/>
<line x1="319.70" y1="251.84" x2="322.00" y2="255.42" stroke="#0a0a0a" stroke-width="0.5"/>
<line x1="323.60" y1="251.84" x2="327.90" y2="255.42" stroke="#0a0a0a" stroke-width="0.5"/>
<line x1="325.60" y1="251.84" x2="328.50" y2="255.42" stroke="#0a0a0a" stroke-width="0.5"/>
<line x1="327.50" y1="251.84" x2="329.00" y2="255.42" stroke="#0a0a0a" stroke-width="0.5"/>
<line x1="328.00" y1="251.84" x2="329.40" y2="255.42" stroke="#0a0a0a" stroke-width="0.5"/>
<line x1="328.50" y1="251.84" x2="329.70" y2="255.42" stroke="#0a0a0a" stroke-width="0.5"/>
<line x1="329.00" y1="251.84" x2="330.00" y2="255.42" stroke="#0a0a0a" stroke-width="0.5"/>
<line x1="330.00" y1="251.84" x2="330.60" y2="255.42" stroke="#0a0a0a" stroke-width="0.5"/>
<rect x="142.90" y="255.42" width="94.70" height="14.9" fill="#d81e3c" stroke="#1a1020" stroke-width="0.3"/>
<rect x="237.60" y="255.42" width="81.00" height="14.9" fill="#1f45a8" stroke="#1a1020" stroke-width="0.3"/>
<rect x="318.60" y="255.42" width="3.40" height="14.9" fill="#2aa9a4" stroke="#1a1020" stroke-width="0.3"/>
<rect x="322.00" y="255.42" width="5.90" height="14.9" fill="#f9a11b" stroke="#1a1020" stroke-width="0.3"/>
<rect x="327.90" y="255.42" width="0.60" height="14.9" fill="#8560b5" stroke="#1a1020" stroke-width="0.3"/>
<rect x="328.50" y="255.42" width="0.50" height="14.9" fill="#a4d27c" stroke="#1a1020" stroke-width="0.3"/>
<rect x="329.00" y="255.42" width="0.40" height="14.9" fill="#ee7f70" stroke="#1a1020" stroke-width="0.3"/>
<rect x="329.40" y="255.42" width="0.30" height="14.9" fill="#1f7fd0" stroke="#1a1020" stroke-width="0.3"/>
<rect x="329.70" y="255.42" width="0.30" height="14.9" fill="#8fc31f" stroke="#1a1020" stroke-width="0.3"/>
<rect x="330.00" y="255.42" width="0.60" height="14.9" fill="#6b6b20" stroke="#1a1020" stroke-width="0.3"/>
<rect x="330.60" y="255.42" width="2.80" height="14.9" fill="#f5ee3a" stroke="#1a1020" stroke-width="0.3"/>
<line x1="237.60" y1="270.32" x2="200.00" y2="273.90" stroke="#0a0a0a" stroke-width="0.5"/>
<line x1="318.60" y1="270.32" x2="270.50" y2="273.90" stroke="#0a0a0a" stroke-width="0.5"/>
<line x1="322.00" y1="270.32" x2="327.00" y2="273.90" stroke="#0a0a0a" stroke-width="0.5"/>
<line x1="327.90" y1="270.32" x2="328.00" y2="273.90" stroke="#0a0a0a" stroke-width="0.5"/>
<line x1="328.50" y1="270.32" x2="328.60" y2="273.90" stroke="#0a0a0a" stroke-width="0.5"/>
<line x1="329.00" y1="270.32" x2="329.20" y2="273.90" stroke="#0a0a0a" stroke-width="0.5"/>
<line x1="329.40" y1="270.32" x2="329.80" y2="273.90" stroke="#0a0a0a" stroke-width="0.5"/>
<line x1="329.70" y1="270.32" x2="330.30" y2="273.90" stroke="#0a0a0a" stroke-width="0.5"/>
<line x1="330.00" y1="270.32" x2="330.80" y2="273.90" stroke="#0a0a0a" stroke-width="0.5"/>
<line x1="330.60" y1="270.32" x2="331.60" y2="273.90" stroke="#0a0a0a" stroke-width="0.5"/>
<rect x="142.90" y="273.90" width="57.10" height="14.9" fill="#d81e3c" stroke="#1a1020" stroke-width="0.3"/>
<rect x="200.00" y="273.90" width="70.50" height="14.9" fill="#1f45a8" stroke="#1a1020" stroke-width="0.3"/>
<rect x="270.50" y="273.90" width="56.50" height="14.9" fill="#2aa9a4" stroke="#1a1020" stroke-width="0.3"/>
<rect x="327.00" y="273.90" width="1.00" height="14.9" fill="#f9a11b" stroke="#1a1020" stroke-width="0.3"/>
<rect x="328.00" y="273.90" width="0.60" height="14.9" fill="#8560b5" stroke="#1a1020" stroke-width="0.3"/>
<rect x="328.60" y="273.90" width="0.60" height="14.9" fill="#a4d27c" stroke="#1a1020" stroke-width="0.3"/>
<rect x="329.20" y="273.90" width="0.60" height="14.9" fill="#ee7f70" stroke="#1a1020" stroke-width="0.3"/>
<rect x="329.80" y="273.90" width="0.50" height="14.9" fill="#1f7fd0" stroke="#1a1020" stroke-width="0.3"/>
<rect x="330.30" y="273.90" width="0.50" height="14.9" fill="#8fc31f" stroke="#1a1020" stroke-width="0.3"/>
<rect x="330.80" y="273.90" width="0.80" height="14.9" fill="#6b6b20" stroke="#1a1020" stroke-width="0.3"/>
<rect x="331.60" y="273.90" width="1.80" height="14.9" fill="#f5ee3a" stroke="#1a1020" stroke-width="0.3"/>
<line x1="200.00" y1="288.80" x2="220.00" y2="292.38" stroke="#0a0a0a" stroke-width="0.5"/>
<line x1="270.50" y1="288.80" x2="272.60" y2="292.38" stroke="#0a0a0a" stroke-width="0.5"/>
<line x1="327.00" y1="288.80" x2="326.10" y2="292.38" stroke="#0a0a0a" stroke-width="0.5"/>
<line x1="328.00" y1="288.80" x2="330.40" y2="292.38" stroke="#0a0a0a" stroke-width="0.5"/>
<line x1="328.60" y1="288.80" x2="330.80" y2="292.38" stroke="#0a0a0a" stroke-width="0.5"/>
<line x1="329.20" y1="288.80" x2="331.20" y2="292.38" stroke="#0a0a0a" stroke-width="0.5"/>
<line x1="329.80" y1="288.80" x2="331.50" y2="292.38" stroke="#0a0a0a" stroke-width="0.5"/>
<line x1="330.30" y1="288.80" x2="331.80" y2="292.38" stroke="#0a0a0a" stroke-width="0.5"/>
<line x1="330.80" y1="288.80" x2="332.10" y2="292.38" stroke="#0a0a0a" stroke-width="0.5"/>
<line x1="331.60" y1="288.80" x2="332.60" y2="292.38" stroke="#0a0a0a" stroke-width="0.5"/>
<rect x="142.90" y="292.38" width="77.10" height="14.9" fill="#d81e3c" stroke="#1a1020" stroke-width="0.3"/>
<rect x="220.00" y="292.38" width="52.60" height="14.9" fill="#1f45a8" stroke="#1a1020" stroke-width="0.3"/>
<rect x="272.60" y="292.38" width="53.50" height="14.9" fill="#2aa9a4" stroke="#1a1020" stroke-width="0.3"/>
<rect x="326.10" y="292.38" width="4.30" height="14.9" fill="#f9a11b" stroke="#1a1020" stroke-width="0.3"/>
<rect x="330.40" y="292.38" width="0.40" height="14.9" fill="#8560b5" stroke="#1a1020" stroke-width="0.3"/>
<rect x="330.80" y="292.38" width="0.40" height="14.9" fill="#a4d27c" stroke="#1a1020" stroke-width="0.3"/>
<rect x="331.20" y="292.38" width="0.30" height="14.9" fill="#ee7f70" stroke="#1a1020" stroke-width="0.3"/>
<rect x="331.50" y="292.38" width="0.30" height="14.9" fill="#1f7fd0" stroke="#1a1020" stroke-width="0.3"/>
<rect x="331.80" y="292.38" width="0.30" height="14.9" fill="#8fc31f" stroke="#1a1020" stroke-width="0.3"/>
<rect x="332.10" y="292.38" width="0.50" height="14.9" fill="#6b6b20" stroke="#1a1020" stroke-width="0.3"/>
<rect x="332.60" y="292.38" width="0.80" height="14.9" fill="#f5ee3a" stroke="#1a1020" stroke-width="0.3"/>
<path d="M142.9,314 V311.4 H333.4 V314" fill="none" stroke="#444" stroke-width="0.6"/>
<line x1="142.90" y1="311.4" x2="142.90" y2="314" stroke="#444" stroke-width="0.6"/>
<text x="142.90" y="320.8" font-size="6.8" fill="#111" text-anchor="middle">0</text>
<line x1="190.53" y1="311.4" x2="190.53" y2="314" stroke="#444" stroke-width="0.6"/>
<text x="190.53" y="320.8" font-size="6.8" fill="#111" text-anchor="middle">0.25</text>
<line x1="238.15" y1="311.4" x2="238.15" y2="314" stroke="#444" stroke-width="0.6"/>
<text x="238.15" y="320.8" font-size="6.8" fill="#111" text-anchor="middle">0.5</text>
<line x1="285.77" y1="311.4" x2="285.77" y2="314" stroke="#444" stroke-width="0.6"/>
<text x="285.77" y="320.8" font-size="6.8" fill="#111" text-anchor="middle">0.75</text>
<line x1="333.40" y1="311.4" x2="333.40" y2="314" stroke="#444" stroke-width="0.6"/>
<text x="333.40" y="320.8" font-size="6.8" fill="#111" text-anchor="middle">1</text>
<text x="237.8" y="328.3" font-size="7.05" fill="#222" text-anchor="middle">Relative Abundance in Phylum Level</text>
<rect x="338.5" y="181.50" width="5.1" height="5" fill="#d81e3c" stroke="#761021" stroke-width="0.6"/>
<text x="347" y="185.85" font-size="5.2" fill="#10101c" stroke="#10101c" stroke-width="0.08">Proteobacteria</text>
<rect x="338.5" y="188.70" width="5.1" height="5" fill="#1f45a8" stroke="#11255c" stroke-width="0.6"/>
<text x="347" y="193.05" font-size="5.2" fill="#10101c" stroke="#10101c" stroke-width="0.08">Firmicutes</text>
<rect x="338.5" y="195.90" width="5.1" height="5" fill="#2aa9a4" stroke="#175c5a" stroke-width="0.6"/>
<text x="347" y="200.25" font-size="5.2" fill="#10101c" stroke="#10101c" stroke-width="0.08">Bacteroidetes</text>
<rect x="338.5" y="203.10" width="5.1" height="5" fill="#f9a11b" stroke="#88580e" stroke-width="0.6"/>
<text x="347" y="207.45" font-size="5.2" fill="#10101c" stroke="#10101c" stroke-width="0.08">Actinobacteria</text>
<rect x="338.5" y="210.30" width="5.1" height="5" fill="#8560b5" stroke="#493463" stroke-width="0.6"/>
<text x="347" y="214.65" font-size="5.2" fill="#10101c" stroke="#10101c" stroke-width="0.08">Chloroflexi</text>
<rect x="338.5" y="217.50" width="5.1" height="5" fill="#a4d27c" stroke="#5a7344" stroke-width="0.6"/>
<text x="347" y="221.85" font-size="5.2" fill="#10101c" stroke="#10101c" stroke-width="0.08">Acidobacteria</text>
<rect x="338.5" y="224.70" width="5.1" height="5" fill="#ee7f70" stroke="#82453d" stroke-width="0.6"/>
<text x="347" y="229.05" font-size="5.2" fill="#10101c" stroke="#10101c" stroke-width="0.08">Spirochaetes</text>
<rect x="338.5" y="231.90" width="5.1" height="5" fill="#1f7fd0" stroke="#114572" stroke-width="0.6"/>
<text x="347" y="236.25" font-size="5.2" fill="#10101c" stroke="#10101c" stroke-width="0.08">Verrucomicrobia</text>
<rect x="338.5" y="239.10" width="5.1" height="5" fill="#8fc31f" stroke="#4e6b11" stroke-width="0.6"/>
<text x="347" y="243.45" font-size="5.2" fill="#10101c" stroke="#10101c" stroke-width="0.08">Nitrospirae</text>
<rect x="338.5" y="246.30" width="5.1" height="5" fill="#6b6b20" stroke="#3a3a11" stroke-width="0.6"/>
<text x="347" y="250.65" font-size="5.2" fill="#10101c" stroke="#10101c" stroke-width="0.08">Gemmatimonadetes</text>
<rect x="338.5" y="253.50" width="5.1" height="5" fill="#f5ee3a" stroke="#86821f" stroke-width="0.6"/>
<text x="347" y="257.85" font-size="5.2" fill="#10101c" stroke="#10101c" stroke-width="0.08">Others</text>
</g>
</svg>
</body></html>
